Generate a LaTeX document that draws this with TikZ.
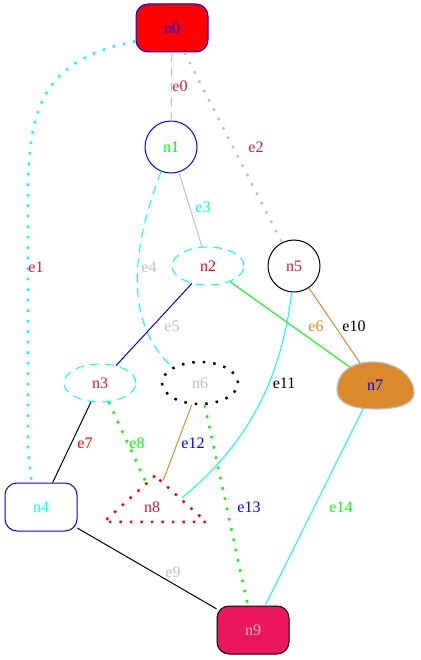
\documentclass[tikz,border=0pt]{standalone}
\usepackage{fontspec}
\setmainfont{Liberation Serif}
\usetikzlibrary{shapes.geometric}
\definecolor{crim}{HTML}{DC143C}
\definecolor{crimfill}{HTML}{EC165C}
\definecolor{lgray}{HTML}{C0C0C0}
\definecolor{gorange}{HTML}{DA8A2A}
\definecolor{gcyan}{HTML}{00FFFF}
\definecolor{ggreen}{HTML}{00FF00}
\tikzset{
  rbox/.style={rectangle, rounded corners=12pt, minimum width=72pt, minimum height=48pt, inner sep=0pt},
  circ/.style={circle, minimum size=52pt, inner sep=0pt},
  ell/.style={ellipse, minimum width=72pt, minimum height=38pt, inner sep=0pt},
  gdash/.style={dash pattern=on 9pt off 6pt},
  gdots/.style={line width=2.5pt, dash pattern=on 2.5pt off 8pt},
  lbl/.style={inner sep=1pt},
}
\begin{document}
\begin{tikzpicture}[x=1pt, y=-1pt, font=\fontsize{16}{18}\selectfont, line width=1pt]
\useasboundingbox (0,0) rectangle (420,660);
% egg outline of n7
\draw[lgray, fill=gorange, line width=1.2pt] (337,390) .. controls (337,372) and (352,362) .. (373,362) .. controls (396,362) and (414,376) .. (414,393) .. controls (414,404) and (398,409) .. (376,409) .. controls (352,409) and (337,403) .. (337,390) -- cycle;
% nodes
\node[rbox, draw=blue, fill=red, text=blue] (n0) at (172,28) {n0};
\node[circ, draw=blue, text=ggreen] (n1) at (171,147) {n1};
\node[ell, draw=gcyan, gdash, text=red] (n2) at (208,266) {n2};
\node[circ, draw=black, text=crim] (n5) at (294,266) {n5};
\node[ell, draw=gcyan, gdash, text=crim] (n3) at (100,383) {n3};
\node[ell, draw=black, gdots, minimum width=76pt, minimum height=42pt, text=lgray] (n6) at (200,383) {n6};
\node[ellipse, text=blue, minimum width=77pt, minimum height=47pt, inner sep=0pt] (n7) at (375,385) {n7};
\node[rbox, draw=blue, text=gcyan] (n4) at (41,507) {n4};
\node[isosceles triangle, shape border rotate=90, isosceles triangle stretches, minimum width=102pt, minimum height=46pt, inner sep=0pt, draw=red, gdots, anchor=south] (n8) at (155,523) {};
\node[text=crim] (n8t) at (152,507) {n8};
\node[rbox, draw=black, fill=crimfill, text=lgray] (n9) at (253,630) {n9};
% edges
\draw[lgray, gdash] (n0) -- (n1);
\draw[gcyan, gdots] (n0.200) .. controls (40,60) and (28,110) .. (28,200) -- (28,440) .. controls (28,465) and (32,472) .. (n4.112);
\draw[lgray, gdots] (n0) -- (n5);
\draw[lgray] (n1) -- (n2);
\draw[gcyan, gdash] (n1.248) .. controls (135,240) and (120,320) .. (n6.150);
\draw[blue] (n2) -- (n3);
\draw[ggreen] (n2) -- (n7);
\draw[black] (n3) -- (n4);
\draw[ggreen, gdots] (n3) -- (n8);
\draw[black] (n4) -- (n9);
\draw[gorange] (n5) -- (n7);
\draw[gcyan] (n5.265) .. controls (280,390) and (240,450) .. (n8.right side);
\draw[gorange] (n6) -- (n8);
\draw[ggreen, gdots] (n6) -- (n9);
\draw[gcyan] (n7) -- (n9);
% labels
\node[lbl, text=crim] (l0) at (180,86) {e0};
\node[lbl, text=crim] (l1) at (36,267) {e1};
\node[lbl, text=crim] (l2) at (256,147) {e2};
\node[lbl, text=gcyan] (l3) at (203,207) {e3};
\node[lbl, text=lgray] (l4) at (149,267) {e4};
\node[lbl, text=lgray] (l5) at (172,326) {e5};
\node[lbl, text=gorange] (l6) at (316,326) {e6};
\node[lbl, text=red] (l7) at (85,443) {e7};
\node[lbl, text=ggreen] (l8) at (137,443) {e8};
\node[lbl, text=lgray] (l9) at (173,572) {e9};
\node[lbl, text=black] (l10) at (354,326) {e10};
\node[lbl, text=black] (l11) at (284,383) {e11};
\node[lbl, text=blue] (l12) at (193,443) {e12};
\node[lbl, text=blue] (l13) at (249,507) {e13};
\node[lbl, text=ggreen] (l14) at (341,507) {e14};
\end{tikzpicture}
\end{document}
